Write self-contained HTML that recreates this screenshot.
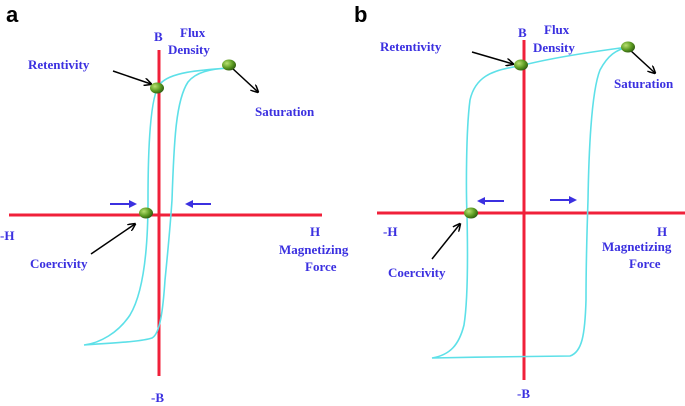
<!DOCTYPE html>
<html><head><style>
body{margin:0;background:#fff}
svg{display:block}
text{font-family:"Liberation Serif",serif;font-weight:bold;fill:#3b30e0;font-size:13px}
.p{font-family:"Liberation Sans",sans-serif;fill:#000;font-size:22px}
</style></head><body>
<svg width="685" height="406" viewBox="0 0 685 406">
<defs>
<marker id="ah" markerWidth="8" markerHeight="8" refX="7" refY="4" orient="auto" markerUnits="userSpaceOnUse"><path d="M0,0 L8,4 L0,8" fill="none" stroke="#000" stroke-width="1.5"/></marker>
<marker id="bh" markerWidth="8" markerHeight="8" refX="6" refY="4" orient="auto" markerUnits="userSpaceOnUse"><path d="M0,0 L8,4 L0,8 Z" fill="#3b30e0"/></marker>
<radialGradient id="g" cx="0.35" cy="0.35" r="0.7"><stop offset="0" stop-color="#b8e070"/><stop offset="0.6" stop-color="#5a9a20"/><stop offset="1" stop-color="#2f5a10"/></radialGradient>
</defs>
<text class="p" x="6" y="22">a</text>
<text class="p" x="354" y="22">b</text>
<!-- panel a -->
<line x1="9" y1="215" x2="322" y2="215" stroke="#f0203a" stroke-width="3"/>
<line x1="159" y1="50" x2="159" y2="376" stroke="#f0203a" stroke-width="3"/>
<path d="M229,68 C200,70 170,72 160,84 C150,95 148,150 148,200 C148,240 145,290 130,315 C118,333 100,343 84,345 C110,343 140,342 152,338 C160,334 163,310 165,280 C168,250 170,230 172,200 C174,140 176,100 188,82 C196,72 210,69 229,68" fill="none" stroke="#5de0e8" stroke-width="1.6"/>
<line x1="113" y1="71" x2="151" y2="84" stroke="#000" stroke-width="1.5" marker-end="url(#ah)"/>
<line x1="232" y1="68" x2="258" y2="92" stroke="#000" stroke-width="1.5" marker-end="url(#ah)"/>
<line x1="91" y1="254" x2="135" y2="224" stroke="#000" stroke-width="1.5" marker-end="url(#ah)"/>
<line x1="110" y1="204" x2="135" y2="204" stroke="#3b30e0" stroke-width="2" marker-end="url(#bh)"/>
<line x1="211" y1="204" x2="187" y2="204" stroke="#3b30e0" stroke-width="2" marker-end="url(#bh)"/>
<ellipse cx="157" cy="88" rx="7" ry="5.5" fill="url(#g)"/>
<ellipse cx="229" cy="65" rx="7" ry="5.5" fill="url(#g)"/>
<ellipse cx="146" cy="213" rx="7" ry="5.5" fill="url(#g)"/>
<text x="154" y="41">B</text>
<text x="180" y="37">Flux</text>
<text x="168" y="54">Density</text>
<text x="28" y="69">Retentivity</text>
<text x="255" y="116">Saturation</text>
<text x="0" y="240">-H</text>
<text x="30" y="268">Coercivity</text>
<text x="310" y="236">H</text>
<text x="279" y="254">Magnetizing</text>
<text x="305" y="271">Force</text>
<text x="151" y="402">-B</text>
<!-- panel b -->
<line x1="377" y1="213" x2="685" y2="213" stroke="#f0203a" stroke-width="3"/>
<line x1="524" y1="40" x2="524" y2="380" stroke="#f0203a" stroke-width="3"/>
<path d="M628,47 C590,52 550,58 520,66 C490,70 475,78 470,100 C466,130 466,190 467,215 C468,260 468,300 464,325 C459,345 450,355 432,358 C480,357 540,356 570,356 C582,352 585,335 586,300 C586,260 587,230 588,200 C589,140 592,90 600,70 C608,55 616,50 628,47" fill="none" stroke="#5de0e8" stroke-width="1.6"/>
<line x1="472" y1="52" x2="513" y2="64" stroke="#000" stroke-width="1.5" marker-end="url(#ah)"/>
<line x1="630" y1="50" x2="655" y2="73" stroke="#000" stroke-width="1.5" marker-end="url(#ah)"/>
<line x1="432" y1="259" x2="460" y2="224" stroke="#000" stroke-width="1.5" marker-end="url(#ah)"/>
<line x1="504" y1="201" x2="479" y2="201" stroke="#3b30e0" stroke-width="2" marker-end="url(#bh)"/>
<line x1="550" y1="200" x2="575" y2="200" stroke="#3b30e0" stroke-width="2" marker-end="url(#bh)"/>
<ellipse cx="521" cy="65" rx="7" ry="5.5" fill="url(#g)"/>
<ellipse cx="628" cy="47" rx="7" ry="5.5" fill="url(#g)"/>
<ellipse cx="471" cy="213" rx="7" ry="5.5" fill="url(#g)"/>
<text x="518" y="37">B</text>
<text x="544" y="34">Flux</text>
<text x="533" y="52">Density</text>
<text x="380" y="51">Retentivity</text>
<text x="614" y="88">Saturation</text>
<text x="383" y="236">-H</text>
<text x="388" y="277">Coercivity</text>
<text x="657" y="236">H</text>
<text x="602" y="251">Magnetizing</text>
<text x="629" y="268">Force</text>
<text x="517" y="398">-B</text>
</svg>
</body></html>
